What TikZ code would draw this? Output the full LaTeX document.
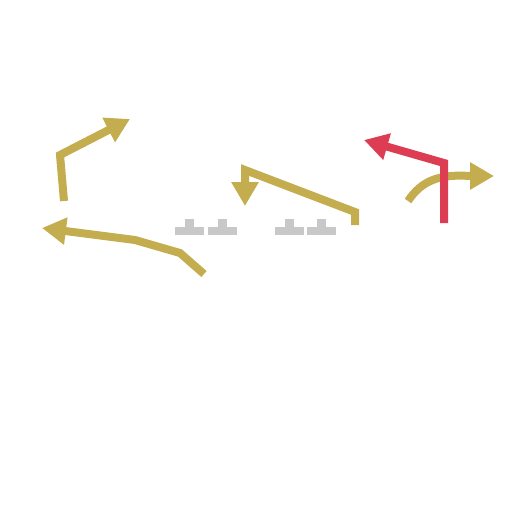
\documentclass[tikz,border=0pt]{standalone}
\usepackage{tikz}
\usetikzlibrary{arrows.meta}
\definecolor{gold}{HTML}{C4AD4F}
\definecolor{rouge}{HTML}{DC3D52}
\definecolor{grau}{HTML}{C8C8C8}

\begin{document}
\begin{tikzpicture}[
    x=1pt, y=-1pt,
    route/.style = {gold, line width=8pt, line join=miter,
      -{Triangle[length=24pt,width=26pt]}},
    hot/.style = {route, rouge},
    blocker/.style = {grau, fill=grau, draw=none}
    ]

  \useasboundingbox (0,0) rectangle (512,512);

  % linemen
  \foreach \x in {175,208,275,307} {
    \fill[blocker] (\x,227) rectangle ++(29,8);
    \fill[blocker] (\x+10,219) rectangle ++(9,8);
  }

  % routes
  \coordinate (r1s) at (64,201);
  \coordinate (r1k) at (60,155);
  \coordinate (r1e) at (130,119);
  \draw[route] (r1s) -- (r1k) -- (r1e);

  \coordinate (r2s) at (204,274);
  \coordinate (r2a) at (180,253);
  \coordinate (r2b) at (135,240);
  \coordinate (r2e) at (42,228);
  \draw[route] (r2s) -- (r2a) -- (r2b) -- (r2e);

  \coordinate (r3s) at (355,225);
  \coordinate (r3a) at (355,212);
  \coordinate (r3b) at (245,170);
  \coordinate (r3e) at (245,206);
  \draw[route] (r3s) -- (r3a) -- (r3b) -- (r3e);

  \coordinate (r4s) at (408,201);
  \coordinate (r4e) at (494,176);
  \draw[route] (r4s) .. controls (422,180) and (440,174) .. (470,176) -- (r4e);

  \coordinate (r5s) at (444,223);
  \coordinate (r5k) at (444,163);
  \coordinate (r5e) at (364,140);
  \draw[hot] (r5s) -- (r5k) -- (r5e);
\end{tikzpicture}
\end{document}
